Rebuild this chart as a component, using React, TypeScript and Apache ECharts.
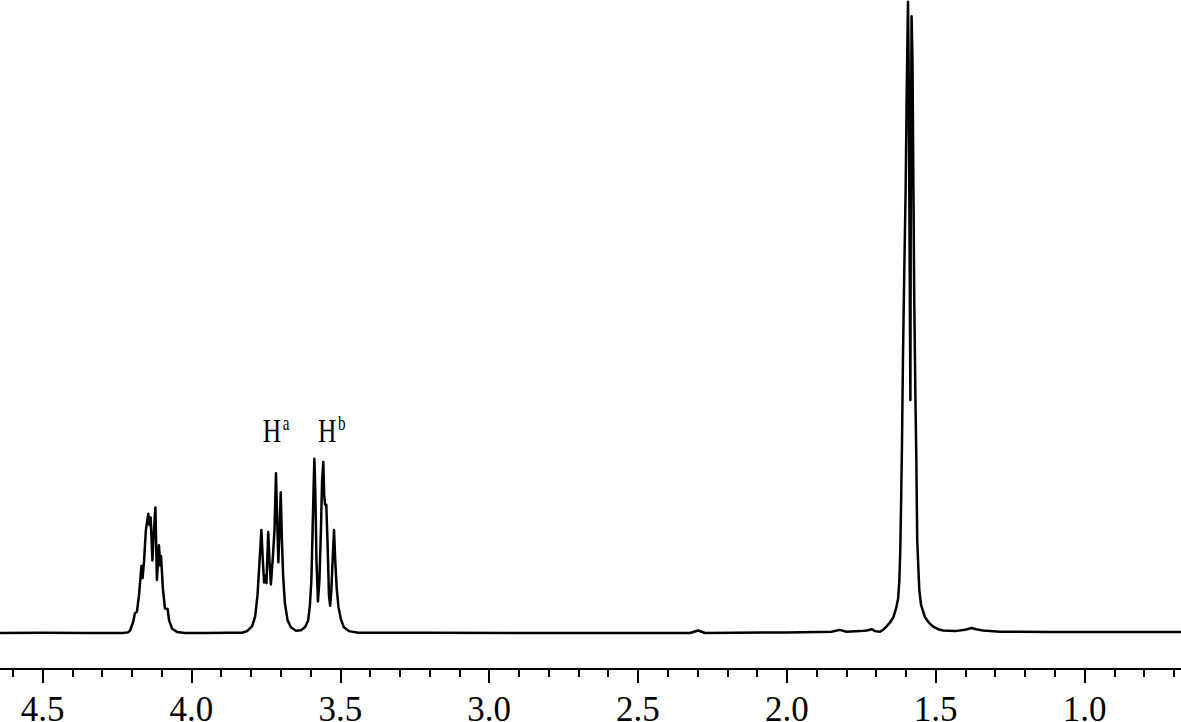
import React, { useEffect, useRef } from "react";
import * as echarts from "echarts";

// chemical shift range shown (ppm), axis is reversed (high ppm on the left)
const ppmMax = 4.643;
const ppmMin = 0.676;

// tick values (ppm)
const majorTicks = [4.5, 4.0, 3.5, 3.0, 2.5, 2.0, 1.5, 1.0];
const minorTicks = [
  4.6, 4.4, 4.3, 4.2, 4.1, 3.9, 3.8, 3.7, 3.6, 3.4, 3.3, 3.2, 3.1, 2.9, 2.8, 2.7, 2.6,
  2.4, 2.3, 2.2, 2.1, 1.9, 1.8, 1.7, 1.6, 1.4, 1.3, 1.2, 1.1, 0.9, 0.8, 0.7,
];

// spectrum points: [ppm, relative intensity]
const baselineLeft: [number, number][] = [
  [4.643, 0], [4.5, 0.05], [4.35, 0], [4.23, 0],
];

const multiplet410: [number, number][] = [
  [4.213, 0.1], [4.206, 0.4], [4.196, 1.7], [4.19, 3.1], [4.183, 3.4], [4.176, 6.0],
  [4.168, 10.6], [4.164, 8.7], [4.159, 11.5], [4.153, 16.3], [4.145, 18.9], [4.141, 17.1],
  [4.137, 18.3], [4.131, 11.5], [4.127, 15.5], [4.121, 19.9], [4.116, 8.4], [4.109, 13.9],
  [4.105, 10.7], [4.102, 12.2], [4.096, 7.1], [4.089, 3.9], [4.08, 3.8], [4.075, 2.0],
  [4.065, 0.7], [4.048, 0.15], [4.022, 0],
];

const baselineMid1: [number, number][] = [
  [3.95, 0], [3.88, 0.05], [3.83, 0.05],
];

const multipletHa: [number, number][] = [
  [3.813, 0.3], [3.796, 1.1], [3.786, 2.6], [3.778, 6.0], [3.771, 11.5], [3.765, 16.3],
  [3.761, 12.3], [3.756, 8.0], [3.751, 9.1], [3.748, 7.9], [3.742, 16.0], [3.738, 11.5],
  [3.733, 7.7], [3.726, 12.3], [3.721, 16.3], [3.716, 25.3], [3.712, 17.9], [3.708, 11.2],
  [3.704, 16.3], [3.7, 22.3], [3.696, 14.7], [3.692, 9.1], [3.686, 4.7], [3.677, 2.0],
  [3.666, 0.9], [3.649, 0.35],
];

const multipletHb: [number, number][] = [
  [3.632, 0.45], [3.618, 0.95], [3.608, 2.0], [3.602, 4.4], [3.597, 8.4], [3.593, 16.3],
  [3.589, 24.2], [3.587, 27.6], [3.584, 22.6], [3.58, 11.5], [3.575, 5.0], [3.57, 8.4],
  [3.565, 16.3], [3.561, 24.2], [3.557, 27.1], [3.554, 21.8], [3.551, 20.3], [3.547, 20.3],
  [3.543, 14.7], [3.538, 6.0], [3.534, 4.3], [3.53, 6.8], [3.525, 12.3], [3.521, 16.3],
  [3.517, 11.5], [3.512, 7.1], [3.506, 4.1], [3.498, 2.2], [3.488, 0.9], [3.471, 0.3],
  [3.44, 0.05],
];

const baselineMid2: [number, number][] = [
  [3.2, 0.05], [2.8, 0], [2.5, 0], [2.325, 0], [2.298, 0.4], [2.275, 0], [2.0, 0.1],
  [1.85, 0.2], [1.822, 0.5], [1.8, 0.2], [1.754, 0.3], [1.732, 0.4], [1.714, 0.6],
  [1.704, 0.3], [1.687, 0.2],
];

const methylPeak: [number, number][] = [
  [1.674, 0.6], [1.664, 1.1], [1.653, 1.7], [1.642, 2.5], [1.633, 3.9], [1.626, 5.5],
  [1.622, 8.4], [1.619, 13.1], [1.616, 21.1], [1.613, 30.6], [1.61, 43.2], [1.606, 55.9],
  [1.601, 70.1], [1.598, 82.8], [1.595, 93.9], [1.593, 100], [1.591, 90.8], [1.588, 63.8],
  [1.585, 36.9], [1.584, 60.6], [1.582, 87.4], [1.581, 97.7], [1.578, 90.8], [1.575, 71.8],
  [1.572, 52.7], [1.568, 36.9], [1.565, 27.4], [1.562, 14.7], [1.558, 10.0], [1.555, 6.8],
  [1.549, 4.4], [1.536, 2.5], [1.522, 1.6], [1.508, 1.0], [1.492, 0.6], [1.475, 0.4],
];

const baselineRight: [number, number][] = [
  [1.435, 0.3], [1.402, 0.5], [1.379, 0.8], [1.365, 0.6], [1.341, 0.4], [1.284, 0.2],
  [1.116, 0.15], [0.948, 0.15], [0.676, 0.15],
];

// peak assignment labels: letter, superscript, anchor (ppm, intensity at text baseline)
const peakLabels = [
  { base: "H", sup: "a", ppm: 3.76, intensity: 30.3 },
  { base: "H", sup: "b", ppm: 3.575, intensity: 30.3 },
];

const FONT = "Liberation Serif";

export default function App() {
  const ref = useRef<HTMLDivElement>(null);

  useEffect(() => {
    if (!ref.current) return;
    const chart = echarts.init(ref.current, null, { renderer: "svg" });

    const spectrum = [
      ...baselineLeft,
      ...multiplet410,
      ...baselineMid1,
      ...multipletHa,
      ...multipletHb,
      ...baselineMid2,
      ...methylPeak,
      ...baselineRight,
    ];

    const axisBase = {
      type: "value" as const,
      min: ppmMin,
      max: ppmMax,
      inverse: true,
      position: "bottom" as const,
      splitLine: { show: false },
    };

    chart.setOption({
      animation: false,
      backgroundColor: "#ffffff",
      grid: {
        left: 0,
        right: 0,
        top: 0,
        bottom: 53,
        containLabel: false,
        outerBoundsMode: "none",
      },
      xAxis: [
        {
          ...axisBase,
          axisLine: { show: true, onZero: false, lineStyle: { color: "#000", width: 2 } },
          axisTick: {
            show: true,
            customValues: majorTicks,
            length: 14,
            lineStyle: { color: "#000", width: 2 },
          },
          axisLabel: {
            show: true,
            customValues: majorTicks,
            formatter: (v: number) => v.toFixed(1),
            fontSize: 35,
            lineHeight: 24,
            fontFamily: FONT,
            color: "#000",
            margin: 28,
          },
        },
        {
          ...axisBase,
          axisLine: { show: false, onZero: false },
          axisTick: {
            show: true,
            customValues: minorTicks,
            length: 8,
            lineStyle: { color: "#000", width: 2 },
          },
          axisLabel: { show: false },
        },
      ],
      yAxis: {
        type: "value",
        min: -5.7,
        max: 100.27,
        show: false,
        splitLine: { show: false },
      },
      series: [
        {
          type: "line",
          xAxisIndex: 0,
          yAxisIndex: 0,
          data: spectrum,
          showSymbol: false,
          symbol: "none",
          clip: false,
          silent: true,
          lineStyle: { color: "#000", width: 2.5, join: "round" },
        },
      ],
    });

    const graphics = peakLabels.map((l) => {
      const p = chart.convertToPixel({ xAxisIndex: 0, yAxisIndex: 0 }, [l.ppm, l.intensity]) as number[];
      return {
        type: "group",
        x: p[0],
        y: p[1],
        silent: true,
        children: [
          {
            type: "text",
            x: 0,
            y: -11,
            scaleX: 0.75,
            style: {
              text: l.base,
              font: `34px ${FONT}`,
              fill: "#000",
              textAlign: "left",
              align: "left",
              textVerticalAlign: "middle",
              verticalAlign: "middle",
            },
          },
          {
            type: "text",
            x: 20,
            y: -18.6,
            scaleX: 0.72,
            style: {
              text: l.sup,
              font: `21px ${FONT}`,
              fill: "#000",
              textAlign: "left",
              align: "left",
              textVerticalAlign: "middle",
              verticalAlign: "middle",
            },
          },
        ],
      };
    });
    chart.setOption({ graphic: graphics });

    return () => chart.dispose();
  }, []);

  return (
    <div
      ref={ref}
      style={{ position: "fixed", left: 0, top: 0, width: 1181, height: 722, background: "#fff" }}
    />
  );
}
